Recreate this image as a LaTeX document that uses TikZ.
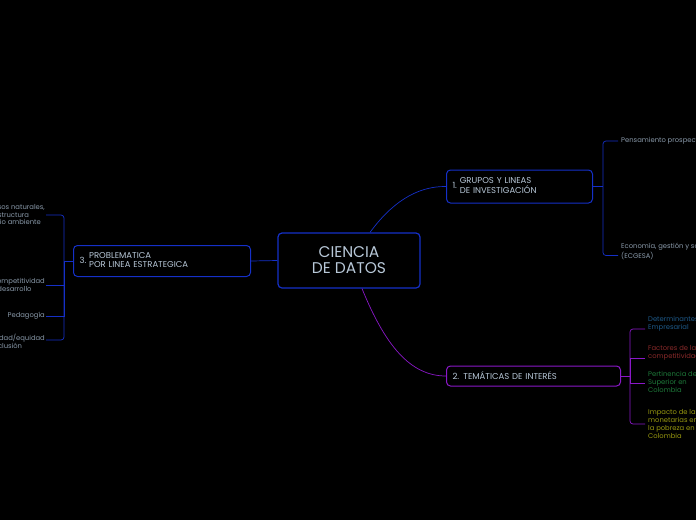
\documentclass[tikz,border=0pt]{standalone}
\usepackage{fontspec}
\setmainfont{Poppins}
\begin{document}
\begin{tikzpicture}[x=1pt,y=-1pt,
 mainbox/.style={draw=#1,line width=1pt,rounded corners=4pt,inner xsep=6pt,inner ysep=3pt,align=left,text=textc,font=\fontsize{8.5}{9}\selectfont},
 leaf/.style={font=\fontsize{6.8}{7.8}\selectfont,align=left,anchor=west,inner sep=0pt},
 lleaf/.style={font=\fontsize{6.8}{7.8}\selectfont,align=left,anchor=east,inner sep=0pt,text=leafc},
 con/.style={draw=#1,line width=0.7pt}]
\definecolor{bl}{HTML}{1530C8}
\definecolor{pu}{HTML}{8A18C8}
\definecolor{textc}{HTML}{B8C8D8}
\definecolor{leafc}{HTML}{8A9AAA}
\definecolor{c21}{HTML}{1E5A8A}
\definecolor{c22}{HTML}{8A2A2A}
\definecolor{c23}{HTML}{1E7A3A}
\definecolor{c24}{HTML}{9A9A10}
\clip (0,0) rectangle (696,520);
\fill[black] (0,0) rectangle (696,520);
\node[draw=bl,line width=1.2pt,rounded corners=4pt,minimum width=142pt,minimum height=55pt,align=center,text=textc,font=\fontsize{15.5}{16}\selectfont] (c) at (349,260.5) {CIENCIA\\DE DATOS};
\node[mainbox=bl,text width=134pt,minimum height=33pt,anchor=west] (n1) at (446,186.5) {1.\ \begin{tabular}{@{}l@{}}GRUPOS Y LINEAS\\DE INVESTIGACIÓN\end{tabular}};
\node[mainbox=pu,text width=162pt,minimum height=20pt,anchor=west] (n2) at (446,376) {2. TEMÁTICAS DE INTERÉS};
\node[mainbox=bl,text width=165pt,minimum height=31pt,anchor=east] (n3) at (251,261) {3.\ \begin{tabular}{@{}l@{}}PROBLEMATICA\\POR LINEA ESTRATEGICA\end{tabular}};
\draw[con=bl] (c.north) ++(21,0) coordinate (a1) .. controls (390,205) and (415,186) .. (n1.west);
\draw[con=pu] (c.south) ++(13,0) coordinate (a2) .. controls (385,345) and (410,376) .. (n2.west);
\draw[con=bl] (c.west) -- (n3.east);
% branch 1
\coordinate (b1) at (603,186.5);
\draw[con=bl] (n1.east) -- (b1);
\node[leaf,text=leafc] (l11) at (621,141) {Pensamiento prospectivo};
\node[leaf,text=leafc] (l12) at (621,251.5) {Economía, gestión y sociedad\\(ECGESA)};
\draw[con=bl,rounded corners=3pt] ([xshift=-3pt]l11.west) -| (b1) |- ([xshift=-3pt,yshift=-4pt]l12.west);
% branch 2
\coordinate (b2) at (630,376);
\draw[con=pu] (n2.east) -- (b2);
\node[leaf,text=c21] (l21) at (648,324) {Determinantes de la Innovación\\Empresarial};
\node[leaf,text=c22] (l22) at (648,353) {Factores de la\\competitividad};
\node[leaf,text=c23] (l23) at (648,382) {Pertinencia de la Educación\\Superior en\\Colombia};
\node[leaf,text=c24] (l24) at (648,424) {Impacto de las políticas\\monetarias en\\la pobreza en\\Colombia};
\draw[con=pu,rounded corners=3pt] ([xshift=-3pt,yshift=-5pt]l21.west) -| (b2) |- ([xshift=-3pt]l24.west);
\draw[con=pu] (b2) |- ([xshift=-3pt,yshift=-5pt]l22.west);
\draw[con=pu] (b2) |- ([xshift=-3pt,yshift=-1pt]l23.west);
% branch 3
\coordinate (b3) at (64,261);
\draw[con=bl] (n3.west) -- (b3);
\node[lleaf] (l31) at (45,215.5) {Recursos naturales,\\infraestructura\\y medio ambiente};
\node[lleaf] (l32) at (45,286) {Competitividad\\y desarrollo};
\node[lleaf] (l33) at (45,316) {Pedagogía};
\node[lleaf] (l34) at (45,341) {Calidad/equidad\\e inclusión};
\coordinate (e31) at (46,215);
\coordinate (e32) at (46,285);
\coordinate (e33) at (46,316);
\coordinate (e34) at (46,340);
\draw[con=bl,rounded corners=3pt] (e31) -| (b3) |- (e34);
\draw[con=bl] (b3) |- (e32);
\draw[con=bl] (b3) |- (e33);
\end{tikzpicture}
\end{document}
